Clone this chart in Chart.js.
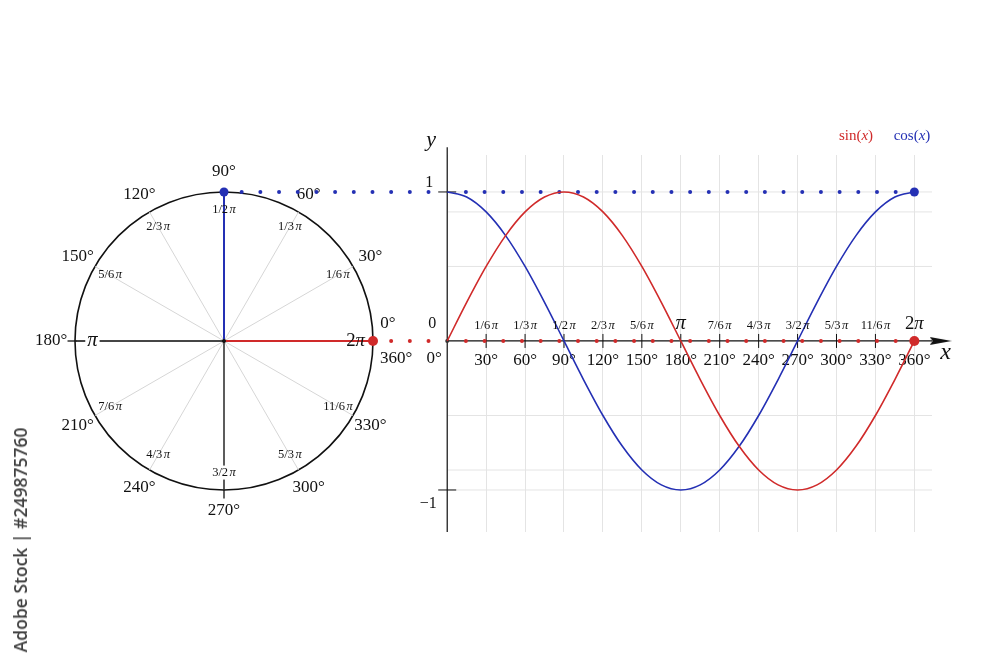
<!DOCTYPE html>
<html>
<head>
<meta charset="utf-8">
<script src="https://cdn.jsdelivr.net/npm/chart.js@4.4.1/dist/chart.umd.min.js"></script>
<style>
  html, body { margin: 0; padding: 0; background: #fff; }
  #page { position: relative; width: 1000px; height: 667px; overflow: hidden; }
  #circle { position: absolute; left: 24px; top: 141px; }
  #waves { position: absolute; left: 0; top: 0; }
  #stamp {
    position: absolute; left: 20px; top: 540px;
    transform: translate(-50%, -50%) rotate(-90deg);
    white-space: nowrap; font: 600 17.5px "Open Sans"; color: #404040;
  }
</style>
</head>
<body>
<div id="page">
  <canvas id="circle" width="400" height="400"></canvas>
  <canvas id="waves" width="1000" height="667"></canvas>
  <div id="stamp">Adobe Stock | #249875760</div>
</div>
<script>
// wave samples, every 15 degrees
const degrees = [0, 15, 30, 45, 60, 75, 90, 105, 120, 135, 150, 165, 180,
                 195, 210, 225, 240, 255, 270, 285, 300, 315, 330, 345, 360];
const sinValues = [0, 0.2588, 0.5, 0.7071, 0.866, 0.9659, 1, 0.9659, 0.866, 0.7071, 0.5, 0.2588, 0,
                   -0.2588, -0.5, -0.7071, -0.866, -0.9659, -1, -0.9659, -0.866, -0.7071, -0.5, -0.2588, 0];
const cosValues = [1, 0.9659, 0.866, 0.7071, 0.5, 0.2588, 0, -0.2588, -0.5, -0.7071, -0.866, -0.9659, -1,
                   -0.9659, -0.866, -0.7071, -0.5, -0.2588, 0, 0.2588, 0.5, 0.7071, 0.866, 0.9659, 1];

// x ticks and their radian names
const tickDegrees = [0, 30, 60, 90, 120, 150, 180, 210, 240, 270, 300, 330, 360];
const piFractions = ['', '1/6', '1/3', '1/2', '2/3', '5/6', 'π', '7/6', '4/3', '3/2', '5/3', '11/6', '2π'];

// horizontal grid rows (sin of the 30 degree steps), zero is the axis itself
const yGridValues = [-1, -0.866, -0.5, 0.5, 0.866, 1];

// dotted projection lines from the circle
const blueDotsX = [-158.4, -144, -129.6, -115.2, -100.8, -86.4, -72, -57.6, -43.2, -28.8, -14.4,
                   14.4, 28.8, 43.2, 57.6, 72, 86.4, 100.8, 115.2, 129.6, 144, 158.4, 172.8, 187.2,
                   201.6, 216, 230.4, 244.8, 259.2, 273.6, 288, 302.4, 316.8, 331.2, 345.6];
const redDotsX = [-43.2, -28.8, -14.4,
                  14.4, 28.8, 43.2, 57.6, 72, 86.4, 100.8, 115.2, 129.6, 144, 158.4, 172.8, 187.2,
                  201.6, 216, 230.4, 244.8, 259.2, 273.6, 288, 302.4, 316.8, 331.2, 345.6];

// unit circle spokes, clockwise starting at the right
const circleOrder = [0, 330, 300, 270, 240, 210, 180, 150, 120, 90, 60, 30];

const RED = '#d02a2a';
const BLUE = '#2430b4';
const INK = '#111';
const GRID = '#e4e4e4';
const X_END = 373.6;

function serif(size, italic) {
    return (italic ? 'italic ' : '') + size + 'px "Liberation Serif"';
}

// draw a row of text pieces centred on x,y
function drawParts(ctx, parts, x, y, opts) {
    opts = opts || {};
    ctx.save();
    ctx.textBaseline = 'middle';
    ctx.textAlign = 'left';
    let total = 0;
    parts.forEach(p => {
        ctx.font = serif(p.size, p.italic);
        p.w = ctx.measureText(p.text).width + (p.gap || 0);
        total += p.w;
    });
    let cx = x - total / 2;
    if (opts.bg) {
        ctx.fillStyle = '#fff';
        ctx.fillRect(cx - 2, y - opts.bg / 2, total + 4, opts.bg);
    }
    parts.forEach(p => {
        ctx.font = serif(p.size, p.italic);
        ctx.fillStyle = p.color || opts.color || INK;
        ctx.fillText(p.text, cx, y);
        cx += p.w;
    });
    ctx.restore();
}

function piParts(frac, size) {
    if (frac === 'π') return [{ text: 'π', size: size * 1.65, italic: true }];
    if (frac === '2π') return [{ text: '2', size: size * 1.5 }, { text: 'π', size: size * 1.5, italic: true }];
    return [{ text: frac, size: size, gap: 1.5 }, { text: 'π', size: size, italic: true }];
}

// ---------- unit circle (radar) ----------

const circleText = {
    id: 'circleText',
    afterDatasetsDraw(chart) {
        const r = chart.scales.r;
        const ctx = chart.ctx;
        circleOrder.forEach((deg, i) => {
            const frac = piFractions[deg === 0 ? 12 : deg / 30];
            const inner = r.getPointPositionForValue(i, 0.883);
            const bg = deg === 180 ? 20 : deg === 270 ? 14 : 0;
            drawParts(ctx, piParts(frac, 12.5), inner.x, inner.y, { bg: bg });

            if (deg === 0) {
                const a = r.getPointPositionForValue(i, 1.10);
                const b = r.getPointPositionForValue(i, 1.155);
                drawParts(ctx, [{ text: '0°', size: 17 }], a.x, a.y - 17);
                drawParts(ctx, [{ text: '360°', size: 17 }], b.x, b.y + 18);
            } else {
                const out = r.getPointPositionForValue(i, deg === 180 ? 1.16 : 1.135);
                drawParts(ctx, [{ text: deg + '°', size: 17 }], out.x, out.y);
            }
        });
    }
};

new Chart(document.getElementById('circle'), {
    type: 'radar',
    data: {
        labels: circleOrder.map(d => d + '°'),
        datasets: [
            {
                // black half axes (left and down); small dot marks the centre
                data: circleOrder.map(d => (d === 180 || d === 270) ? 1 : 0),
                borderColor: INK, borderWidth: 1.3, fill: false,
                pointRadius: ctx => ctx.dataIndex === 1 ? 2 : 0,
                pointBackgroundColor: INK, pointBorderWidth: 0
            },
            {
                data: circleOrder.map(d => d === 90 ? 1 : 0),
                borderColor: BLUE, borderWidth: 2, fill: false,
                pointRadius: ctx => circleOrder[ctx.dataIndex] === 90 ? 4.5 : 0,
                pointBackgroundColor: BLUE, pointBorderWidth: 0
            },
            {
                data: circleOrder.map(d => d === 0 ? 1 : 0),
                borderColor: RED, borderWidth: 2, fill: false,
                pointRadius: ctx => circleOrder[ctx.dataIndex] === 0 ? 5 : 0,
                pointBackgroundColor: RED, pointBorderWidth: 0
            },
            {
                // axis stubs sticking out past the ring
                data: circleOrder.map(d => d === 180 ? 1.02 : d === 270 ? 1.027 : null),
                showLine: false, clip: false,
                pointStyle: 'line', pointRadius: 4.5,
                pointRotation: ctx => circleOrder[ctx.dataIndex] === 270 ? 90 : 0,
                pointBorderColor: INK, pointBorderWidth: 1.3
            }
        ]
    },
    options: {
        responsive: false,
        animation: false,
        events: [],
        layout: { padding: 51 },
        plugins: { legend: { display: false }, tooltip: { enabled: false } },
        scales: {
            r: {
                min: 0, max: 1,
                startAngle: 90,
                ticks: { display: false, stepSize: 1 },
                grid: { circular: true, color: INK, lineWidth: 1.6 },
                angleLines: { color: '#d6d6d6', lineWidth: 1 },
                pointLabels: { display: false }
            }
        }
    },
    plugins: [circleText]
});

// ---------- sin / cos plot ----------

// narrow arrow head, tip pointing up
const arrowHead = document.createElement('canvas');
arrowHead.width = 8;
arrowHead.height = 22;
(function () {
    const c = arrowHead.getContext('2d');
    c.fillStyle = INK;
    c.beginPath();
    c.moveTo(4, 0);
    c.lineTo(8, 22);
    c.lineTo(4, 19);
    c.lineTo(0, 22);
    c.closePath();
    c.fill();
})();

const waveText = {
    id: 'waveText',
    afterDatasetsDraw(chart) {
        const xs = chart.scales.x, ys = chart.scales.y;
        const ctx = chart.ctx;
        const x0 = xs.getPixelForValue(0), y0 = ys.getPixelForValue(0);
        const right = xs.getPixelForValue(X_END);
        const top = ys.getPixelForValue(ys.max);

        tickDegrees.forEach((deg, i) => {
            if (deg === 0) return;
            const big = deg === 180 || deg === 360;
            drawParts(ctx, piParts(piFractions[i], 12.5), xs.getPixelForValue(deg), y0 - (big ? 17 : 15));
        });

        drawParts(ctx, [{ text: '0°', size: 17 }], x0 - 13, y0 + 18);
        drawParts(ctx, [{ text: '0', size: 16 }], x0 - 15, y0 - 17);
        drawParts(ctx, [{ text: '1', size: 16 }], x0 - 18, ys.getPixelForValue(1) - 9);
        drawParts(ctx, [{ text: '−1', size: 16 }], x0 - 19, ys.getPixelForValue(-1) + 14);
        drawParts(ctx, [{ text: 'y', size: 22, italic: true }], x0 - 16, ys.getPixelForValue(1.35));
        drawParts(ctx, [{ text: 'x', size: 24, italic: true }], xs.getPixelForValue(384), y0 + 12);

        // legend
        const ly = top - 19;
        drawParts(ctx, [{ text: 'sin(', size: 15 }, { text: 'x', size: 15, italic: true }, { text: ')', size: 15 }],
            right - 76, ly, { color: RED });
        drawParts(ctx, [{ text: 'cos(', size: 15 }, { text: 'x', size: 15, italic: true }, { text: ')', size: 15 }],
            right - 20, ly, { color: BLUE });
    }
};

const free = { clip: false, showLine: false };

// grid rows only span the plot, not the circle on the left
const gridRows = yGridValues.map(v => ({
    ...free, order: 9,
    data: [{ x: 0, y: v }, { x: X_END, y: v }],
    showLine: true, borderColor: GRID, borderWidth: 1, pointRadius: 0
}));

new Chart(document.getElementById('waves'), {
    type: 'scatter',
    data: {
        datasets: [
            {
                ...free, order: 1,
                data: [{ x: 360, y: 1 }],
                pointRadius: 4.5, pointBackgroundColor: BLUE, pointBorderWidth: 0
            },
            {
                ...free, order: 1,
                data: [{ x: 360, y: 0 }],
                pointRadius: 5, pointBackgroundColor: RED, pointBorderWidth: 0
            },
            {
                ...free, order: 2, label: 'sin(x)',
                data: degrees.map((d, i) => ({ x: d, y: sinValues[i] })),
                showLine: true, borderColor: RED, borderWidth: 1.6,
                pointRadius: 0, cubicInterpolationMode: 'monotone'
            },
            {
                ...free, order: 2, label: 'cos(x)',
                data: degrees.map((d, i) => ({ x: d, y: cosValues[i] })),
                showLine: true, borderColor: BLUE, borderWidth: 1.6,
                pointRadius: 0, cubicInterpolationMode: 'monotone'
            },
            {
                ...free, order: 3,
                data: blueDotsX.map(x => ({ x: x, y: 1 })),
                pointRadius: 2, pointBackgroundColor: BLUE, pointBorderWidth: 0
            },
            {
                ...free, order: 3,
                data: redDotsX.map(x => ({ x: x, y: 0 })),
                pointRadius: 2, pointBackgroundColor: RED, pointBorderWidth: 0
            },
            {
                ...free, order: 3,
                data: [{ x: 0, y: 0 }],
                pointRadius: 2, pointBackgroundColor: '#333', pointBorderWidth: 0
            },
            {
                // axes
                ...free, order: 4,
                data: [{ x: 0, y: 0 }, { x: 374, y: 0 }],
                showLine: true, borderColor: INK, borderWidth: 1.2, pointRadius: 0
            },
            {
                ...free, order: 4,
                data: [{ x: 0, y: -1.282 }, { x: 0, y: 1.3 }],
                showLine: true, borderColor: INK, borderWidth: 1.2, pointRadius: 0
            },
            {
                ...free, order: 4,
                data: tickDegrees.filter(d => d > 0 && d < 360).map(d => ({ x: d, y: 0 })),
                pointStyle: 'line', pointRotation: 90, pointRadius: 7,
                pointBorderColor: INK, pointBorderWidth: 1
            },
            {
                ...free, order: 4,
                data: [{ x: 0, y: 1 }, { x: 0, y: -1 }],
                pointStyle: 'line', pointRotation: 0, pointRadius: 9,
                pointBorderColor: INK, pointBorderWidth: 1
            },
            {
                ...free, order: 4,
                data: [{ x: 380.3, y: 0 }, { x: 0, y: 1.322 }],
                pointStyle: arrowHead, pointRotation: [90, 0], pointRadius: 10
            },
            ...gridRows
        ]
    },
    options: {
        responsive: false,
        animation: false,
        events: [],
        layout: { padding: { left: 220, right: 68, top: 155, bottom: 135 } },
        plugins: { legend: { display: false }, tooltip: { enabled: false } },
        scales: {
            x: {
                type: 'linear',
                position: { y: 0 },
                min: -175.1, max: X_END,
                afterBuildTicks: s => { s.ticks = tickDegrees.map(v => ({ value: v })); },
                afterFit: s => { s.paddingLeft = 0; s.paddingRight = 0; },
                ticks: {
                    callback: v => v === 0 ? '' : v + '°',
                    font: { family: 'Liberation Serif', size: 17 },
                    color: INK, padding: 9, autoSkip: false, maxRotation: 0
                },
                grid: { color: GRID, drawTicks: false },
                border: { display: false }
            },
            y: {
                type: 'linear',
                display: false,
                min: -1.282, max: 1.248
            }
        }
    },
    plugins: [waveText]
});
</script>
</body>
</html>
